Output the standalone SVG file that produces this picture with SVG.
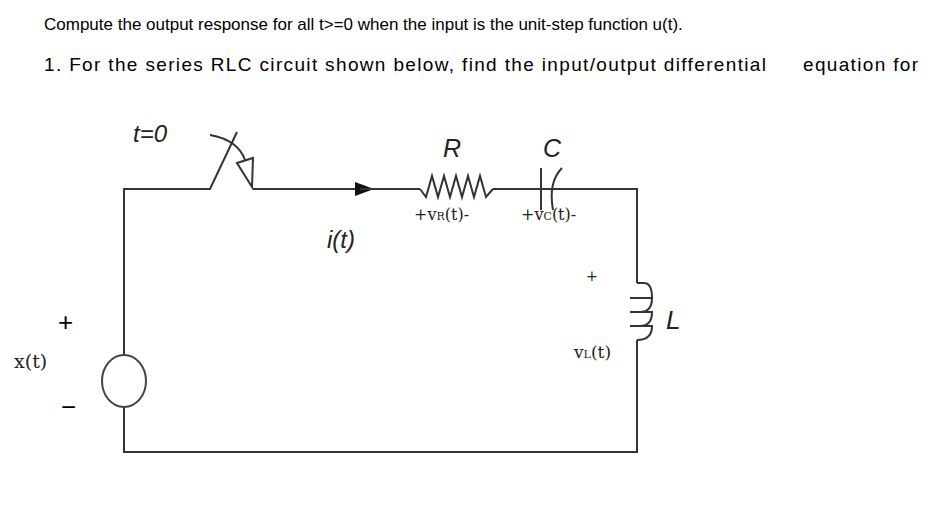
<svg xmlns="http://www.w3.org/2000/svg" width="937" height="529" viewBox="0 0 937 529">
<style>
.w{stroke:#333;stroke-width:2;fill:none}
.t{font-family:"Liberation Sans",Arial,sans-serif;fill:#000}
.s{font-family:"DejaVu Serif",serif;fill:#222}
.i{font-family:"Liberation Sans",Arial,sans-serif;font-style:italic;fill:#222}
</style>
<rect width="937" height="529" fill="#fff"/>
<text class="t" x="44" y="30" font-size="17">Compute the output response for all t&gt;=0 when the input is the unit-step function u(t).</text>
<text class="t" x="44" y="71" font-size="19" textLength="722">1.  For the series RLC circuit shown below, find the input/output differential</text>
<text class="t" x="803" y="71" font-size="19" textLength="115">equation for</text>
<g id="wires">
<path class="w" d="M124,355 V189 H210 L237,132"/>
<path class="w" d="M124,407 V452 H637 V340"/>
<path class="w" stroke-width="3" d="M253,189 H360"/>
<path d="M355,182 L374,189 L355,196 Z" fill="#111"/>
<path class="w" d="M360,189 H420 M493,189 H637 V283"/>
</g>
<g id="switch">
<path class="w" d="M210,135 Q238,140 245,160"/>
<path class="w" stroke-width="1.5" d="M237,163 L253,158 L252,187 Z"/>
</g>
<g id="resistor"><path class="w" stroke-width="1.5" d="M420,189 L426,197 L432,176 L438,197 L444,176 L450,197 L456,176 L462,197 L468,176 L474,197 L480,176 L486,197 L493,189"/></g>
<g id="capacitor">
<path class="w" d="M541,168 V210"/>
<path class="w" stroke-width="1.5" d="M562,168 Q548,182 553,210"/>
</g>
<g id="inductor"><path class="w" d="M637,283 H644 Q652,283 652,298 M630,298 H652 Q652,312 640,312 M630,312 H652 Q652,326 640,326 M630,326 H652 Q652,340 637,340"/></g>
<g id="source"><ellipse cx="124" cy="381" rx="22" ry="26" fill="#fff" stroke="#444" stroke-width="2"/></g>
<text class="i" x="133" y="142" font-size="24" font-style="normal">t=0</text>
<text class="i" x="443" y="157" font-size="25">R</text>
<text class="i" x="543" y="157" font-size="25">C</text>
<text class="i" x="327" y="248" font-size="24">i(t)</text>
<text class="s" x="414" y="220" font-size="16">+v<tspan font-size="11">R</tspan>(t)-</text>
<text class="s" x="521" y="220" font-size="16">+v<tspan font-size="11">C</tspan>(t)-</text>
<text class="s" x="586" y="281" font-size="14">+</text>
<text class="s" x="574" y="358" font-size="17">v<tspan font-size="11">L</tspan>(t)</text>
<text class="i" x="666" y="329" font-size="26">L</text>
<text class="s" x="14" y="368" font-size="19">x(t)</text>
<text class="t" x="58" y="331" font-size="26">+</text>
<text class="t" x="61" y="416" font-size="26">−</text>
</svg>
